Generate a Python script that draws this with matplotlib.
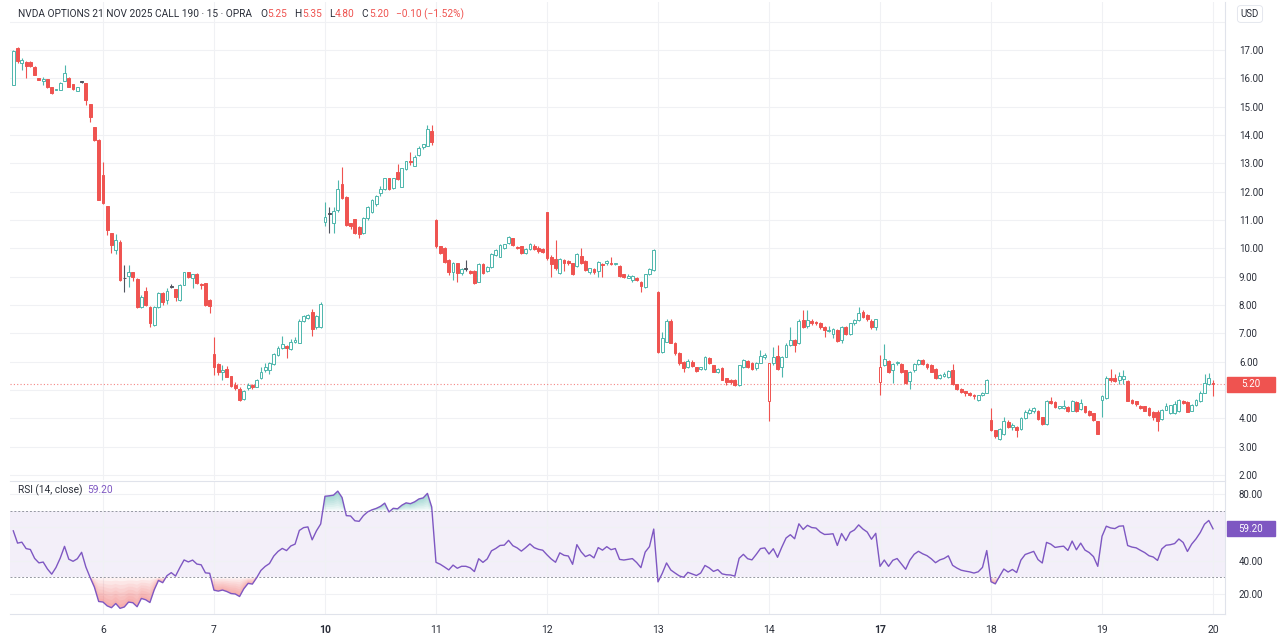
import matplotlib
matplotlib.use("Agg")
import matplotlib.pyplot as plt
import matplotlib.transforms as mtransforms
from matplotlib.patches import Rectangle
import numpy as np

plt.rcParams["font.family"] = ["Roboto", "DejaVu Sans"]

# NVDA 21 Nov 2025 190 call, 15 min bars. Dec 5 (partial) .. Dec 20 (first bar)
opens = [
    15.76, 17.08, 16.55, 16.58, 16.58, 16.41, 16.00, 15.90, 15.98, 15.68, 15.60, 15.59, 15.91, 16.02, 15.79, 15.56, 15.86, 15.82, 15.09, 14.27, 13.82,  # 5
    12.59, 11.49, 10.53, 9.94, 10.24, 8.94, 9.03, 9.15, 8.91, 7.92, 8.50, 7.94, 7.29, 7.92, 8.43, 8.18, 8.65, 8.55, 8.18, 8.71, 9.15, 8.94, 9.09, 8.73, 8.76, 8.18,  # 6
    6.27, 5.91, 5.65, 5.73, 5.49, 5.18, 5.05, 4.68, 5.06, 5.16, 5.12, 5.41, 5.70, 5.70, 5.91, 6.23, 6.50, 6.56, 6.45, 6.70, 6.67, 7.45, 7.55, 7.76, 7.21, 7.23,  # 7
    10.92, 11.20, 10.88, 11.35, 12.26, 11.82, 10.88, 11.04, 10.76, 10.53, 11.06, 11.27, 11.55, 11.94, 12.09, 12.49, 12.14, 12.71, 12.18, 12.80, 13.10, 12.92, 13.30, 13.57, 13.62, 14.14,  # 10
    11.00, 10.08, 10.00, 9.59, 9.18, 9.47, 9.12, 9.26, 9.20, 9.21, 8.82, 9.45, 9.20, 9.35, 9.76, 9.70, 10.00, 10.18, 10.35, 10.06, 10.09, 9.82, 9.98, 10.08, 10.00, 9.98,  # 11
    11.29, 9.70, 9.61, 9.14, 9.59, 9.55, 9.47, 9.38, 9.73, 9.56, 9.18, 9.27, 9.21, 9.45, 9.50, 9.48, 9.43, 9.38, 9.08, 8.97, 8.88, 8.96, 8.82, 8.62, 9.09, 9.24,  # 12
    8.45, 6.35, 6.71, 7.45, 6.67, 6.32, 6.00, 5.80, 6.00, 5.80, 5.73, 5.73, 6.12, 5.88, 5.65, 5.76, 5.41, 5.37, 5.37, 5.18, 5.80, 6.03, 5.94, 5.76, 5.96, 6.15,  # 13
    4.62, 5.94, 6.20, 5.80, 6.17, 6.59, 6.76, 6.65, 7.47, 7.26, 7.42, 7.41, 7.35, 7.24, 7.10, 6.97, 7.12, 6.76, 7.24, 6.97, 7.35, 7.47, 7.76, 7.65, 7.45, 7.24,  # 14
    5.29, 5.88, 6.01, 5.70, 5.94, 5.92, 5.70, 5.32, 5.70, 5.92, 6.06, 5.92, 5.89, 5.74, 5.43, 5.50, 5.46, 5.70, 5.20, 5.05, 4.96, 4.90, 4.84, 4.66, 4.84, 4.90,  # 17
    3.94, 3.58, 3.28, 3.45, 3.88, 3.70, 3.69, 3.61, 4.00, 4.18, 4.26, 4.26, 4.03, 3.81, 4.62, 4.57, 4.36, 4.35, 4.39, 4.27, 4.57, 4.33, 4.42, 4.27, 4.18, 3.90,  # 18
    4.66, 4.72, 5.44, 5.44, 5.34, 5.40, 5.32, 4.66, 4.60, 4.45, 4.42, 4.38, 4.22, 4.24, 3.98, 4.30, 4.20, 4.18, 4.26, 4.62, 4.57, 4.27, 4.48, 4.60, 4.90, 5.20,  # 19
    5.25,  # 20
]
highs = [
    17.00, 17.12, 16.72, 16.60, 16.60, 16.42, 16.02, 16.05, 15.98, 15.70, 15.63, 15.86, 16.47, 16.05, 15.80, 15.70, 15.88, 15.85, 15.10, 14.30, 13.85,
    13.06, 11.50, 10.55, 10.50, 10.30, 9.41, 9.41, 9.18, 8.95, 8.35, 8.65, 7.96, 7.96, 8.45, 8.45, 8.60, 8.75, 8.57, 8.75, 9.18, 9.17, 9.10, 9.12, 8.78, 8.78, 8.20,
    6.86, 5.95, 5.88, 5.85, 5.50, 5.30, 5.10, 5.00, 5.25, 5.20, 5.40, 5.80, 5.95, 6.00, 6.30, 6.55, 6.90, 6.60, 6.80, 6.88, 7.50, 7.65, 7.70, 7.85, 7.65, 8.10,
    11.62, 11.47, 11.45, 12.41, 12.88, 11.85, 10.90, 11.05, 10.80, 11.10, 11.50, 11.75, 11.90, 12.20, 12.50, 12.50, 12.50, 12.97, 12.85, 13.10, 13.40, 13.30, 13.60, 13.70, 14.35, 14.35,
    11.02, 10.10, 10.05, 9.62, 9.52, 9.50, 9.30, 9.60, 9.22, 9.22, 9.47, 9.47, 9.36, 9.82, 9.96, 10.15, 10.16, 10.45, 10.36, 10.08, 10.10, 10.00, 10.18, 10.15, 10.10, 10.00,
    11.30, 9.75, 10.29, 9.65, 9.62, 9.60, 9.50, 9.82, 10.00, 9.58, 9.32, 9.30, 9.55, 9.50, 9.60, 9.70, 9.50, 9.40, 9.10, 9.08, 9.05, 8.98, 8.84, 9.10, 9.30, 9.98,
    8.50, 7.06, 7.50, 7.50, 6.70, 6.35, 6.02, 6.10, 6.05, 5.82, 5.82, 6.20, 6.15, 5.90, 5.78, 5.80, 5.43, 5.40, 5.40, 5.90, 6.10, 6.06, 5.98, 6.00, 6.41, 6.30,
    5.96, 6.53, 6.58, 6.20, 6.65, 7.24, 6.80, 7.50, 7.82, 7.82, 7.50, 7.45, 7.40, 7.26, 7.25, 7.20, 7.15, 7.26, 7.26, 7.38, 7.50, 7.94, 7.82, 7.70, 7.50, 7.52,
    6.23, 6.64, 6.05, 5.95, 6.02, 5.95, 5.72, 5.68, 5.95, 6.10, 6.10, 5.95, 5.92, 5.76, 5.58, 5.62, 5.72, 5.92, 5.22, 5.08, 4.98, 4.93, 4.86, 4.84, 4.94, 5.38,
    4.37, 3.60, 3.66, 4.05, 3.95, 3.82, 3.72, 4.05, 4.28, 4.35, 4.40, 4.30, 4.06, 4.65, 4.75, 4.60, 4.45, 4.66, 4.42, 4.65, 4.60, 4.70, 4.45, 4.30, 4.20, 3.92,
    4.82, 5.50, 5.75, 5.58, 5.65, 5.70, 5.35, 4.68, 4.62, 4.48, 4.44, 4.40, 4.25, 4.28, 4.33, 4.53, 4.48, 4.60, 4.70, 4.65, 4.60, 4.50, 4.70, 4.95, 5.55, 5.60,
    5.35,
]
lows = [
    15.76, 16.55, 16.30, 16.00, 16.40, 16.10, 15.93, 15.78, 15.65, 15.45, 15.58, 15.58, 15.90, 15.68, 15.58, 15.55, 15.84, 15.06, 14.45, 13.80, 11.70,
    11.55, 10.47, 9.83, 9.80, 8.85, 8.47, 8.65, 8.85, 7.90, 7.88, 7.98, 7.23, 7.27, 7.90, 8.00, 8.05, 8.60, 8.15, 8.15, 8.70, 8.95, 8.60, 8.74, 8.55, 7.98, 7.71,
    5.53, 5.53, 5.35, 5.45, 5.10, 5.00, 4.60, 4.65, 5.00, 5.05, 5.10, 5.40, 5.65, 5.55, 5.90, 6.20, 6.45, 6.13, 6.40, 6.65, 6.65, 7.40, 7.50, 6.90, 7.15, 7.20,
    10.80, 10.55, 10.55, 11.30, 11.75, 10.80, 10.70, 10.50, 10.35, 10.50, 11.00, 11.25, 11.50, 11.85, 12.05, 12.05, 12.10, 12.40, 12.15, 12.75, 12.95, 12.90, 13.25, 13.50, 13.60, 13.65,
    10.00, 9.80, 9.50, 9.05, 8.88, 8.82, 9.05, 9.20, 9.10, 8.74, 8.80, 9.10, 9.15, 9.30, 9.72, 9.68, 9.98, 10.15, 10.10, 9.98, 9.80, 9.80, 9.95, 9.95, 9.85, 9.82,
    9.60, 9.00, 9.25, 9.10, 9.20, 9.40, 9.05, 9.35, 9.45, 9.20, 9.10, 9.10, 9.00, 9.00, 9.40, 9.40, 9.40, 9.00, 8.97, 8.95, 8.82, 8.85, 8.47, 8.60, 9.05, 9.20,
    6.30, 6.30, 6.70, 6.65, 6.25, 5.90, 5.65, 5.78, 5.80, 5.65, 5.70, 5.70, 5.92, 5.62, 5.60, 5.35, 5.17, 5.20, 5.15, 5.15, 5.78, 5.78, 5.70, 5.72, 5.94, 6.10,
    3.92, 5.90, 5.70, 5.47, 6.15, 6.55, 6.35, 6.62, 7.18, 7.20, 7.30, 7.30, 7.15, 6.86, 7.05, 6.82, 6.70, 6.65, 6.95, 6.95, 7.30, 7.45, 7.55, 7.45, 7.15, 7.12,
    4.82, 5.85, 5.60, 5.26, 5.90, 5.60, 5.20, 5.05, 5.65, 5.88, 5.90, 5.75, 5.62, 5.40, 5.40, 5.46, 5.42, 5.18, 5.00, 4.88, 4.80, 4.78, 4.70, 4.62, 4.80, 4.88,
    3.55, 3.30, 3.25, 3.42, 3.65, 3.60, 3.35, 3.58, 3.98, 4.15, 4.20, 3.95, 3.75, 3.78, 4.50, 4.35, 4.33, 4.32, 4.22, 4.25, 4.22, 4.30, 4.20, 4.10, 3.90, 3.44,
    4.06, 4.70, 5.28, 5.30, 5.20, 5.20, 4.60, 4.50, 4.45, 4.33, 4.25, 4.10, 3.95, 3.55, 3.95, 4.28, 4.15, 4.15, 4.24, 4.50, 4.22, 4.25, 4.45, 4.58, 4.88, 5.18,
    4.80,
]
closes = [
    16.98, 16.62, 16.65, 16.45, 16.42, 16.12, 15.95, 15.97, 15.70, 15.47, 15.62, 15.85, 16.18, 15.70, 15.61, 15.68, 15.86, 15.24, 14.62, 13.82, 11.71,
    11.59, 10.65, 10.12, 10.29, 8.88, 8.94, 9.15, 9.00, 7.92, 8.29, 8.00, 7.35, 7.94, 8.43, 8.12, 8.49, 8.65, 8.27, 8.71, 9.15, 8.98, 9.08, 8.76, 8.70, 8.00, 7.96,
    5.82, 5.65, 5.70, 5.47, 5.14, 5.06, 4.65, 4.96, 5.18, 5.10, 5.35, 5.65, 5.82, 5.94, 6.26, 6.47, 6.61, 6.50, 6.70, 6.78, 7.45, 7.61, 7.65, 7.14, 7.61, 8.03,
    11.12, 11.20, 11.32, 12.09, 11.79, 10.82, 10.80, 10.53, 10.50, 11.06, 11.47, 11.70, 11.86, 12.09, 12.47, 12.09, 12.47, 12.45, 12.82, 13.08, 13.05, 13.24, 13.55, 13.67, 14.21, 13.74,
    10.08, 9.85, 9.53, 9.18, 9.49, 9.14, 9.26, 9.26, 9.12, 8.76, 9.45, 9.14, 9.33, 9.80, 9.94, 10.12, 10.14, 10.41, 10.12, 10.00, 9.82, 9.98, 10.16, 9.98, 9.90, 9.86,
    9.65, 9.45, 9.29, 9.61, 9.50, 9.47, 9.09, 9.80, 9.47, 9.23, 9.30, 9.15, 9.53, 9.42, 9.55, 9.43, 9.47, 9.02, 8.99, 9.01, 9.03, 8.88, 8.67, 9.09, 9.26, 9.94,
    6.35, 6.82, 7.45, 6.67, 6.30, 5.94, 5.76, 6.03, 5.86, 5.68, 5.80, 6.17, 5.96, 5.65, 5.73, 5.37, 5.29, 5.27, 5.18, 5.88, 6.06, 5.80, 5.73, 5.95, 6.20, 6.23,
    5.94, 6.15, 5.73, 6.15, 6.59, 6.76, 6.59, 7.45, 7.21, 7.47, 7.38, 7.36, 7.21, 7.12, 7.13, 7.15, 6.74, 7.24, 6.97, 7.35, 7.47, 7.73, 7.59, 7.49, 7.24, 7.49,
    5.82, 6.10, 5.65, 5.92, 6.00, 5.65, 5.26, 5.65, 5.92, 6.06, 5.92, 5.82, 5.65, 5.43, 5.53, 5.58, 5.67, 5.20, 5.05, 4.93, 4.88, 4.84, 4.78, 4.81, 4.91, 5.35,
    3.58, 3.38, 3.64, 3.90, 3.69, 3.78, 3.58, 4.02, 4.24, 4.30, 4.36, 3.97, 3.79, 4.62, 4.54, 4.39, 4.42, 4.44, 4.27, 4.62, 4.27, 4.53, 4.24, 4.13, 3.95, 3.46,
    4.78, 5.44, 5.36, 5.33, 5.48, 5.50, 4.62, 4.54, 4.50, 4.38, 4.27, 4.12, 4.06, 3.90, 4.30, 4.44, 4.46, 4.50, 4.66, 4.55, 4.24, 4.48, 4.66, 4.90, 5.26, 5.44,
    5.20,
]

day_labels = ["6", "7", "10", "11", "12", "13", "14", "17", "18", "19", "20"]
bold_days = ["10", "17"]
bars_first_day = 21      # bars of Dec 5 still on screen
bars_per_session = 26

price_ticks = list(range(2, 18))
rsi_ticks = [20, 40, 60, 80]
rsi_period = 14
rsi_seed_gain, rsi_seed_loss = 0.11, 0.08   # state carried in from bars left of the view

header_title = "NVDA OPTIONS 21 NOV 2025 CALL 190 \u00b7 15 \u00b7 OPRA"
header_ohlc = [("O", "5.25"), ("H", "5.35"), ("L", "4.80"), ("C", "5.20")]
header_change = "\u22120.10 (\u22121.52%)"
last_price = 5.20
rsi_last = 59.20

assert len(opens) == len(highs) == len(lows) == len(closes)

TEAL = "#4db6ac"
RED = "#ef5350"
DOJI = "#50535e"
PURPLE = "#7e57c2"
TXT = "#2a2e39"
GRID = "#f0f1f4"

W, H = 1280, 640
fig = plt.figure(figsize=(12.8, 6.4), dpi=100)
fig.patch.set_facecolor("white")

# pixel layout of the two panes
left, right = 10, 1225
ax = fig.add_axes([left / W, 1 - 480 / H, (right - left) / W, 478 / H])
ax2 = fig.add_axes([left / W, 1 - 614 / H, (right - left) / W, 133 / H])

o = np.array(opens)
h = np.array(highs)
l = np.array(lows)
c = np.array(closes)
x = np.arange(len(c))
prev = np.r_[o[0], c[:-1]]

# hollow candles: colour from close vs previous close, filled when close < open
cols = np.where(c >= prev, TEAL, RED).astype(object)
cols[o == c] = DOJI
faces = np.where(c < o, cols, "white").astype(object)
faces[o == c] = DOJI
bottoms = np.minimum(o, c)
heights = np.maximum(np.abs(c - o), 0.03)

ax.vlines(x, l, h, colors=list(cols), lw=0.8, zorder=2)
ax.bar(x, heights, width=0.66, bottom=bottoms, color=list(faces),
       edgecolor=list(cols), linewidth=0.7, zorder=3)

xlim = (-0.77, 283.8)
ax.set_ylim(1.824, 18.694)
ax.axhline(last_price, color=RED, lw=0.8, ls=(0, (1, 2)), alpha=0.7, zorder=1)

day_ticks = [bars_first_day + k * bars_per_session for k in range(len(day_labels))]

for a in (ax, ax2):
    a.set_facecolor("white")
    a.set_xticks(day_ticks)
    a.grid(True, color=GRID, lw=0.8)
    a.set_axisbelow(True)
    for s in ("left", "top", "bottom"):
        a.spines[s].set_visible(False)
    a.spines["right"].set_color("#e0e3eb")
    a.spines["right"].set_linewidth(0.8)
    a.yaxis.tick_right()
    a.tick_params(axis="y", length=0, pad=10, labelsize=7, labelcolor=TXT)
    a.set_xlim(*xlim)

# the 5.00 and 60.00 labels sit under the last-value tags
ax.set_yticks(range(2, 19))
ax.set_yticklabels([f"{v:.2f}" if v in price_ticks and v != 5 else "" for v in range(2, 19)])
ax.tick_params(axis="x", length=0, labelbottom=False)

# RSI pane
rsi = np.empty(len(c))
ag, al = rsi_seed_gain, rsi_seed_loss
rsi[0] = 100 - 100 / (1 + ag / al)
for i in range(1, len(c)):
    d = c[i] - c[i - 1]
    ag = (ag * (rsi_period - 1) + max(d, 0)) / rsi_period
    al = (al * (rsi_period - 1) + max(-d, 0)) / rsi_period
    rsi[i] = 100 - 100 / (1 + ag / al)

ax2.set_ylim(8.0, 87.8)
ax2.axhspan(30, 70, color=PURPLE, alpha=0.09, lw=0, zorder=0)
ax2.axhline(70, color="#9598a1", lw=0.7, ls=(0, (2, 2)))
ax2.axhline(30, color="#9598a1", lw=0.7, ls=(0, (2, 2)))
for k in range(1, 9):
    f = k / 8
    ax2.fill_between(x, rsi, rsi + (30 - rsi) * f, where=rsi < 30, interpolate=True,
                     color=RED, alpha=0.07, lw=0)
    ax2.fill_between(x, rsi, rsi + (70 - rsi) * f, where=rsi > 70, interpolate=True,
                     color="#26a69a", alpha=0.06, lw=0)
ax2.plot(x, rsi, color=PURPLE, lw=1.0, zorder=4)
ax2.set_yticks(rsi_ticks)
ax2.set_yticklabels([f"{v:.2f}" if v != 60 else "" for v in rsi_ticks])
ax2.spines["top"].set_visible(True)
ax2.spines["top"].set_color("#e0e3eb")
ax2.spines["bottom"].set_visible(True)
ax2.spines["bottom"].set_color("#e0e3eb")
ax2.set_xticklabels(day_labels)
ax2.tick_params(axis="x", length=0, pad=8, labelsize=7.5, labelcolor=TXT)
for t in ax2.get_xticklabels():
    if t.get_text() in bold_days:
        t.set_fontweight("bold")

# value tags on the right scale
box_w = 48 / (right - left)
tr = mtransforms.blended_transform_factory(ax.transAxes, ax.transData)
ax.add_patch(Rectangle((1.0016, last_price - 0.27), box_w, 0.54, transform=tr,
                       color=RED, clip_on=False, zorder=5))
ax.text(1.0016 + box_w / 2, last_price, f"{last_price:.2f}", transform=tr, color="white",
        fontsize=7, ha="center", va="center", zorder=6)
tr2 = mtransforms.blended_transform_factory(ax2.transAxes, ax2.transData)
ax2.add_patch(Rectangle((1.0016, rsi_last - 4.6), box_w, 9.2, transform=tr2,
                        color=PURPLE, clip_on=False, zorder=5))
ax2.text(1.0016 + box_w / 2, rsi_last, f"{rsi_last:.2f}", transform=tr2, color="white",
         fontsize=7, ha="center", va="center", zorder=6)

# header and legend lines
renderer = fig.canvas.get_renderer()


def text_run(x_px, y_px, pieces, size=7.3):
    for s, col, gap in pieces:
        t = fig.text(x_px / W, 1 - y_px / H, s, color=col, fontsize=size, ha="left", va="center")
        x_px += t.get_window_extent(renderer).width + gap


pieces = [(header_title, TXT, 8)]
for k, v in header_ohlc:
    pieces += [(k, TXT, 0.5), (v, RED, 7)]
pieces.append((header_change, RED, 0))
text_run(18, 14, pieces)
text_run(18, 490, [("RSI (14, close)", TXT, 5), (f"{rsi_last:.2f}", PURPLE, 0)])

fig.text(1250 / W, 1 - 14 / H, "USD", fontsize=7, color=TXT, ha="center", va="center",
         bbox=dict(boxstyle="round,pad=0.35", fc="white", ec="#e0e3eb", lw=0.6))

fig.savefig("out.png", dpi=100, facecolor="white")
